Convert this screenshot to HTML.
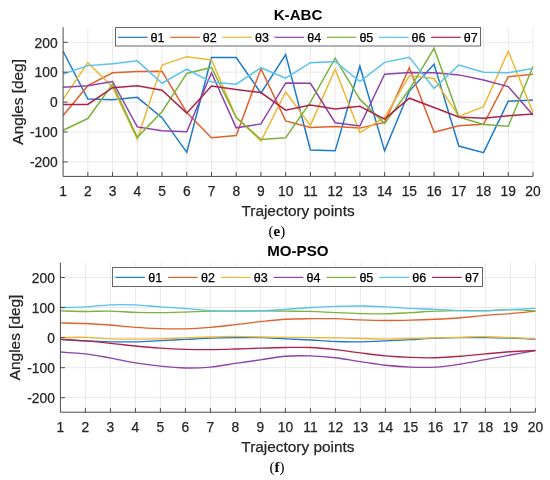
<!DOCTYPE html>
<html><head><meta charset="utf-8"><style>
html,body{margin:0;padding:0;background:#fff;}
svg{display:block;}
text{font-family:"Liberation Sans",Arial,sans-serif;fill:#262626;stroke:#262626;stroke-width:0.25px;}
.tk{font-size:13.8px;}
.lab{font-size:15.4px;}
.ttl{font-size:15.1px;font-weight:bold;fill:#000;stroke:none;}
.lg{font-size:12.5px;fill:#000;stroke:#000;}
.sub{font-family:"Liberation Serif","Times New Roman",serif;font-size:15px;fill:#000;stroke:none;}
</style></head><body>
<svg width="550" height="480" viewBox="0 0 550 480">
<rect width="550" height="480" fill="#fff"/>
<path d="M87.83 27.30V176.40M112.56 27.30V176.40M137.29 27.30V176.40M162.03 27.30V176.40M186.76 27.30V176.40M211.49 27.30V176.40M236.22 27.30V176.40M260.95 27.30V176.40M285.68 27.30V176.40M310.42 27.30V176.40M335.15 27.30V176.40M359.88 27.30V176.40M384.61 27.30V176.40M409.34 27.30V176.40M434.07 27.30V176.40M458.81 27.30V176.40M483.54 27.30V176.40M508.27 27.30V176.40M533.00 27.30V176.40M63.10 161.90H533.00M63.10 132.00H533.00M63.10 102.10H533.00M63.10 72.20H533.00M63.10 42.30H533.00" stroke="#e9e9e9" stroke-width="1" fill="none"/>
<path d="M63.10 51.27L87.83 99.11L112.56 99.71L137.29 97.32L162.03 117.65L186.76 152.33L211.49 57.55L236.22 57.55L260.95 93.13L285.68 54.56L310.42 149.94L335.15 150.84L359.88 66.22L384.61 150.84L409.34 91.04L434.07 64.13L458.81 146.05L483.54 152.63L508.27 101.20L533.00 100.01" stroke="#1a7acb" stroke-width="1.5" fill="none" stroke-linejoin="miter"/>
<path d="M63.10 115.55L87.83 85.66L112.56 72.80L137.29 71.60L162.03 71.30L186.76 112.56L211.49 137.68L236.22 135.59L260.95 68.61L285.68 120.94L310.42 127.51L335.15 126.62L359.88 128.11L384.61 122.43L409.34 67.72L434.07 132.30L458.81 125.72L483.54 124.23L508.27 76.69L533.00 74.29" stroke="#e0612c" stroke-width="1.5" fill="none" stroke-linejoin="miter"/>
<path d="M63.10 99.41L87.83 62.63L112.56 87.15L137.29 139.18L162.03 65.02L186.76 56.65L211.49 59.94L236.22 117.35L260.95 140.97L285.68 91.93L310.42 125.42L335.15 69.21L359.88 132.60L384.61 117.35L409.34 75.79L434.07 78.48L458.81 116.45L483.54 106.58L508.27 51.27L533.00 112.56" stroke="#efb733" stroke-width="1.5" fill="none" stroke-linejoin="miter"/>
<path d="M63.10 87.15L87.83 85.66L112.56 81.47L137.29 126.92L162.03 130.80L186.76 131.70L211.49 72.80L236.22 127.81L260.95 123.93L285.68 82.96L310.42 83.26L335.15 122.73L359.88 126.02L384.61 74.29L409.34 72.50L434.07 72.80L458.81 74.89L483.54 79.97L508.27 86.55L533.00 114.96" stroke="#9040ab" stroke-width="1.5" fill="none" stroke-linejoin="miter"/>
<path d="M63.10 130.21L87.83 118.54L112.56 84.16L137.29 137.38L162.03 111.67L186.76 73.40L211.49 67.42L236.22 117.65L260.95 139.47L285.68 137.68L310.42 102.10L335.15 58.15L359.88 99.41L384.61 123.63L409.34 89.54L434.07 48.28L458.81 117.05L483.54 124.52L508.27 126.32L533.00 66.52" stroke="#7bb33a" stroke-width="1.5" fill="none" stroke-linejoin="miter"/>
<path d="M63.10 73.99L87.83 65.62L112.56 63.83L137.29 60.84L162.03 83.26L186.76 69.21L211.49 82.07L236.22 84.16L260.95 67.72L285.68 78.18L310.42 62.63L335.15 61.44L359.88 81.47L384.61 62.33L409.34 57.25L434.07 88.35L458.81 65.02L483.54 72.20L508.27 72.80L533.00 68.61" stroke="#58c2f0" stroke-width="1.5" fill="none" stroke-linejoin="miter"/>
<path d="M63.10 104.49L87.83 104.49L112.56 87.75L137.29 85.66L162.03 90.14L186.76 113.16L211.49 85.95L236.22 89.54L260.95 92.53L285.68 110.17L310.42 105.09L335.15 108.98L359.88 106.29L384.61 119.14L409.34 98.21L434.07 107.48L458.81 117.05L483.54 118.25L508.27 115.85L533.00 114.06" stroke="#ad2449" stroke-width="1.5" fill="none" stroke-linejoin="miter"/>
<path d="M63.10 27.30V176.40H533.00M87.83 176.40v-4.3M112.56 176.40v-4.3M137.29 176.40v-4.3M162.03 176.40v-4.3M186.76 176.40v-4.3M211.49 176.40v-4.3M236.22 176.40v-4.3M260.95 176.40v-4.3M285.68 176.40v-4.3M310.42 176.40v-4.3M335.15 176.40v-4.3M359.88 176.40v-4.3M384.61 176.40v-4.3M409.34 176.40v-4.3M434.07 176.40v-4.3M458.81 176.40v-4.3M483.54 176.40v-4.3M508.27 176.40v-4.3M533.00 176.40v-4.3M63.10 161.90h4.5M63.10 132.00h4.5M63.10 102.10h4.5M63.10 72.20h4.5M63.10 42.30h4.5" stroke="#4a4a4a" stroke-width="1" fill="none"/>
<text x="63.10" y="196.00" class="tk" text-anchor="middle">1</text>
<text x="87.83" y="196.00" class="tk" text-anchor="middle">2</text>
<text x="112.56" y="196.00" class="tk" text-anchor="middle">3</text>
<text x="137.29" y="196.00" class="tk" text-anchor="middle">4</text>
<text x="162.03" y="196.00" class="tk" text-anchor="middle">5</text>
<text x="186.76" y="196.00" class="tk" text-anchor="middle">6</text>
<text x="211.49" y="196.00" class="tk" text-anchor="middle">7</text>
<text x="236.22" y="196.00" class="tk" text-anchor="middle">8</text>
<text x="260.95" y="196.00" class="tk" text-anchor="middle">9</text>
<text x="285.68" y="196.00" class="tk" text-anchor="middle">10</text>
<text x="310.42" y="196.00" class="tk" text-anchor="middle">11</text>
<text x="335.15" y="196.00" class="tk" text-anchor="middle">12</text>
<text x="359.88" y="196.00" class="tk" text-anchor="middle">13</text>
<text x="384.61" y="196.00" class="tk" text-anchor="middle">14</text>
<text x="409.34" y="196.00" class="tk" text-anchor="middle">15</text>
<text x="434.07" y="196.00" class="tk" text-anchor="middle">16</text>
<text x="458.81" y="196.00" class="tk" text-anchor="middle">17</text>
<text x="483.54" y="196.00" class="tk" text-anchor="middle">18</text>
<text x="508.27" y="196.00" class="tk" text-anchor="middle">19</text>
<text x="533.00" y="196.00" class="tk" text-anchor="middle">20</text>
<text x="57.60" y="167.10" class="tk" text-anchor="end">-200</text>
<text x="57.60" y="137.20" class="tk" text-anchor="end">-100</text>
<text x="57.60" y="107.30" class="tk" text-anchor="end">0</text>
<text x="57.60" y="77.40" class="tk" text-anchor="end">100</text>
<text x="57.60" y="47.50" class="tk" text-anchor="end">200</text>
<text x="23.00" y="101.85" class="lab" text-anchor="middle" transform="rotate(-90 23.00 101.85)">Angles [deg]</text>
<text x="298.05" y="215.60" class="lab" text-anchor="middle">Trajectory points</text>
<text x="298.05" y="20.20" class="ttl" text-anchor="middle">K-ABC</text>
<text x="276.90" y="236.10" class="sub" text-anchor="middle">(<tspan font-weight="bold">e</tspan>)</text>
<rect x="115.50" y="27.50" width="365.00" height="18.50" fill="#fff" stroke="#666" stroke-width="1"/>
<path d="M117.90 37.30h29.70" stroke="#1a7acb" stroke-width="1.2"/>
<text x="150.60" y="41.90" class="lg">θ1</text>
<path d="M170.10 37.30h29.70" stroke="#e0612c" stroke-width="1.2"/>
<text x="202.80" y="41.90" class="lg">θ2</text>
<path d="M222.30 37.30h29.70" stroke="#efb733" stroke-width="1.2"/>
<text x="255.00" y="41.90" class="lg">θ3</text>
<path d="M274.50 37.30h29.70" stroke="#9040ab" stroke-width="1.2"/>
<text x="307.20" y="41.90" class="lg">θ4</text>
<path d="M326.70 37.30h29.70" stroke="#7bb33a" stroke-width="1.2"/>
<text x="359.40" y="41.90" class="lg">θ5</text>
<path d="M378.90 37.30h29.70" stroke="#58c2f0" stroke-width="1.2"/>
<text x="411.60" y="41.90" class="lg">θ6</text>
<path d="M431.10 37.30h29.70" stroke="#ad2449" stroke-width="1.2"/>
<text x="463.80" y="41.90" class="lg">θ7</text>
<path d="M85.40 262.70V412.20M110.40 262.70V412.20M135.40 262.70V412.20M160.40 262.70V412.20M185.40 262.70V412.20M210.40 262.70V412.20M235.40 262.70V412.20M260.40 262.70V412.20M285.40 262.70V412.20M310.40 262.70V412.20M335.40 262.70V412.20M360.40 262.70V412.20M385.40 262.70V412.20M410.40 262.70V412.20M435.40 262.70V412.20M460.40 262.70V412.20M485.40 262.70V412.20M510.40 262.70V412.20M535.40 262.70V412.20M60.40 397.72H535.40M60.40 367.66H535.40M60.40 337.60H535.40M60.40 307.54H535.40M60.40 277.48H535.40" stroke="#e9e9e9" stroke-width="1" fill="none"/>
<path d="M60.40 339.40C64.57 339.65 77.07 340.51 85.40 340.91C93.73 341.31 102.07 341.66 110.40 341.81C118.73 341.96 127.07 342.01 135.40 341.81C143.73 341.61 152.07 341.01 160.40 340.61C168.73 340.21 177.07 339.80 185.40 339.40C193.73 339.00 202.07 338.50 210.40 338.20C218.73 337.90 227.07 337.70 235.40 337.60C243.73 337.50 252.07 337.40 260.40 337.60C268.73 337.80 277.07 338.40 285.40 338.80C293.73 339.20 302.07 339.55 310.40 340.00C318.73 340.46 327.07 341.21 335.40 341.51C343.73 341.81 352.07 341.91 360.40 341.81C368.73 341.71 377.07 341.26 385.40 340.91C393.73 340.56 402.07 340.16 410.40 339.70C418.73 339.25 427.07 338.55 435.40 338.20C443.73 337.85 452.07 337.70 460.40 337.60C468.73 337.50 477.07 337.50 485.40 337.60C493.73 337.70 502.07 337.90 510.40 338.20C518.73 338.50 531.23 339.20 535.40 339.40" stroke="#1a7acb" stroke-width="1.35" fill="none" stroke-linejoin="miter"/>
<path d="M60.40 322.87C64.57 322.97 77.07 323.12 85.40 323.47C93.73 323.82 102.07 324.32 110.40 324.97C118.73 325.63 127.07 326.78 135.40 327.38C143.73 327.98 152.07 328.33 160.40 328.58C168.73 328.83 177.07 329.08 185.40 328.88C193.73 328.68 202.07 328.08 210.40 327.38C218.73 326.68 227.07 325.63 235.40 324.67C243.73 323.72 252.07 322.57 260.40 321.67C268.73 320.77 277.07 319.76 285.40 319.26C293.73 318.76 302.07 318.76 310.40 318.66C318.73 318.56 327.07 318.46 335.40 318.66C343.73 318.86 352.07 319.56 360.40 319.86C368.73 320.17 377.07 320.42 385.40 320.47C393.73 320.52 402.07 320.37 410.40 320.17C418.73 319.96 427.07 319.66 435.40 319.26C443.73 318.86 452.07 318.41 460.40 317.76C468.73 317.11 477.07 316.06 485.40 315.36C493.73 314.65 502.07 314.25 510.40 313.55C518.73 312.85 531.23 311.55 535.40 311.15" stroke="#e0612c" stroke-width="1.35" fill="none" stroke-linejoin="miter"/>
<path d="M60.40 337.60C64.57 337.55 77.07 337.10 85.40 337.30C93.73 337.50 102.07 338.50 110.40 338.80C118.73 339.10 127.07 339.10 135.40 339.10C143.73 339.10 152.07 339.00 160.40 338.80C168.73 338.60 177.07 338.20 185.40 337.90C193.73 337.60 202.07 337.25 210.40 337.00C218.73 336.75 227.07 336.40 235.40 336.40C243.73 336.40 252.07 336.85 260.40 337.00C268.73 337.15 277.07 337.20 285.40 337.30C293.73 337.40 302.07 337.50 310.40 337.60C318.73 337.70 327.07 337.75 335.40 337.90C343.73 338.05 352.07 338.30 360.40 338.50C368.73 338.70 377.07 339.10 385.40 339.10C393.73 339.10 402.07 338.70 410.40 338.50C418.73 338.30 427.07 338.10 435.40 337.90C443.73 337.70 452.07 337.50 460.40 337.30C468.73 337.10 477.07 336.65 485.40 336.70C493.73 336.75 502.07 337.25 510.40 337.60C518.73 337.95 531.23 338.60 535.40 338.80" stroke="#efb733" stroke-width="1.35" fill="none" stroke-linejoin="miter"/>
<path d="M60.40 352.03C64.57 352.33 77.07 352.83 85.40 353.83C93.73 354.83 102.07 356.54 110.40 358.04C118.73 359.54 127.07 361.50 135.40 362.85C143.73 364.20 152.07 365.31 160.40 366.16C168.73 367.01 177.07 367.81 185.40 367.96C193.73 368.11 202.07 367.81 210.40 367.06C218.73 366.31 227.07 364.65 235.40 363.45C243.73 362.25 252.07 361.05 260.40 359.84C268.73 358.64 277.07 356.89 285.40 356.24C293.73 355.59 302.07 355.69 310.40 355.94C318.73 356.19 327.07 356.79 335.40 357.74C343.73 358.69 352.07 360.40 360.40 361.65C368.73 362.90 377.07 364.35 385.40 365.26C393.73 366.16 402.07 366.76 410.40 367.06C418.73 367.36 427.07 367.56 435.40 367.06C443.73 366.56 452.07 365.31 460.40 364.05C468.73 362.80 477.07 361.05 485.40 359.54C493.73 358.04 502.07 356.54 510.40 355.03C518.73 353.53 531.23 351.28 535.40 350.53" stroke="#9040ab" stroke-width="1.35" fill="none" stroke-linejoin="miter"/>
<path d="M60.40 310.85C64.57 310.95 77.07 311.40 85.40 311.45C93.73 311.50 102.07 311.00 110.40 311.15C118.73 311.30 127.07 312.10 135.40 312.35C143.73 312.60 152.07 312.70 160.40 312.65C168.73 312.60 177.07 312.30 185.40 312.05C193.73 311.80 202.07 311.30 210.40 311.15C218.73 311.00 227.07 311.20 235.40 311.15C243.73 311.10 252.07 310.85 260.40 310.85C268.73 310.85 277.07 311.05 285.40 311.15C293.73 311.25 302.07 311.20 310.40 311.45C318.73 311.70 327.07 312.30 335.40 312.65C343.73 313.00 352.07 313.35 360.40 313.55C368.73 313.75 377.07 314.00 385.40 313.85C393.73 313.70 402.07 313.10 410.40 312.65C418.73 312.20 427.07 311.50 435.40 311.15C443.73 310.80 452.07 310.65 460.40 310.55C468.73 310.45 477.07 310.70 485.40 310.55C493.73 310.40 502.07 309.59 510.40 309.64C518.73 309.69 531.23 310.65 535.40 310.85" stroke="#7bb33a" stroke-width="1.35" fill="none" stroke-linejoin="miter"/>
<path d="M60.40 307.54C64.57 307.44 77.07 307.39 85.40 306.94C93.73 306.49 102.07 305.19 110.40 304.83C118.73 304.48 127.07 304.48 135.40 304.83C143.73 305.19 152.07 306.34 160.40 306.94C168.73 307.54 177.07 307.84 185.40 308.44C193.73 309.04 202.07 310.10 210.40 310.55C218.73 311.00 227.07 311.10 235.40 311.15C243.73 311.20 252.07 311.15 260.40 310.85C268.73 310.55 277.07 309.89 285.40 309.34C293.73 308.79 302.07 308.04 310.40 307.54C318.73 307.04 327.07 306.59 335.40 306.34C343.73 306.09 352.07 305.94 360.40 306.04C368.73 306.14 377.07 306.54 385.40 306.94C393.73 307.34 402.07 308.04 410.40 308.44C418.73 308.84 427.07 308.99 435.40 309.34C443.73 309.69 452.07 310.30 460.40 310.55C468.73 310.80 477.07 311.00 485.40 310.85C493.73 310.70 502.07 310.05 510.40 309.64C518.73 309.24 531.23 308.64 535.40 308.44" stroke="#58c2f0" stroke-width="1.35" fill="none" stroke-linejoin="miter"/>
<path d="M60.40 339.40C64.57 339.65 77.07 340.26 85.40 340.91C93.73 341.56 102.07 342.46 110.40 343.31C118.73 344.16 127.07 345.22 135.40 346.02C143.73 346.82 152.07 347.57 160.40 348.12C168.73 348.67 177.07 349.07 185.40 349.32C193.73 349.57 202.07 349.67 210.40 349.62C218.73 349.57 227.07 349.27 235.40 349.02C243.73 348.77 252.07 348.37 260.40 348.12C268.73 347.87 277.07 347.62 285.40 347.52C293.73 347.42 302.07 347.17 310.40 347.52C318.73 347.87 327.07 348.72 335.40 349.62C343.73 350.53 352.07 351.88 360.40 352.93C368.73 353.98 377.07 355.19 385.40 355.94C393.73 356.69 402.07 357.14 410.40 357.44C418.73 357.74 427.07 357.94 435.40 357.74C443.73 357.54 452.07 356.89 460.40 356.24C468.73 355.59 477.07 354.58 485.40 353.83C493.73 353.08 502.07 352.28 510.40 351.73C518.73 351.18 531.23 350.73 535.40 350.53" stroke="#ad2449" stroke-width="1.35" fill="none" stroke-linejoin="miter"/>
<path d="M60.40 262.70V412.20H535.40M85.40 412.20v-4.3M110.40 412.20v-4.3M135.40 412.20v-4.3M160.40 412.20v-4.3M185.40 412.20v-4.3M210.40 412.20v-4.3M235.40 412.20v-4.3M260.40 412.20v-4.3M285.40 412.20v-4.3M310.40 412.20v-4.3M335.40 412.20v-4.3M360.40 412.20v-4.3M385.40 412.20v-4.3M410.40 412.20v-4.3M435.40 412.20v-4.3M460.40 412.20v-4.3M485.40 412.20v-4.3M510.40 412.20v-4.3M535.40 412.20v-4.3M60.40 397.72h4.5M60.40 367.66h4.5M60.40 337.60h4.5M60.40 307.54h4.5M60.40 277.48h4.5" stroke="#4a4a4a" stroke-width="1" fill="none"/>
<text x="60.40" y="431.90" class="tk" text-anchor="middle">1</text>
<text x="85.40" y="431.90" class="tk" text-anchor="middle">2</text>
<text x="110.40" y="431.90" class="tk" text-anchor="middle">3</text>
<text x="135.40" y="431.90" class="tk" text-anchor="middle">4</text>
<text x="160.40" y="431.90" class="tk" text-anchor="middle">5</text>
<text x="185.40" y="431.90" class="tk" text-anchor="middle">6</text>
<text x="210.40" y="431.90" class="tk" text-anchor="middle">7</text>
<text x="235.40" y="431.90" class="tk" text-anchor="middle">8</text>
<text x="260.40" y="431.90" class="tk" text-anchor="middle">9</text>
<text x="285.40" y="431.90" class="tk" text-anchor="middle">10</text>
<text x="310.40" y="431.90" class="tk" text-anchor="middle">11</text>
<text x="335.40" y="431.90" class="tk" text-anchor="middle">12</text>
<text x="360.40" y="431.90" class="tk" text-anchor="middle">13</text>
<text x="385.40" y="431.90" class="tk" text-anchor="middle">14</text>
<text x="410.40" y="431.90" class="tk" text-anchor="middle">15</text>
<text x="435.40" y="431.90" class="tk" text-anchor="middle">16</text>
<text x="460.40" y="431.90" class="tk" text-anchor="middle">17</text>
<text x="485.40" y="431.90" class="tk" text-anchor="middle">18</text>
<text x="510.40" y="431.90" class="tk" text-anchor="middle">19</text>
<text x="535.40" y="431.90" class="tk" text-anchor="middle">20</text>
<text x="54.90" y="402.92" class="tk" text-anchor="end">-200</text>
<text x="54.90" y="372.86" class="tk" text-anchor="end">-100</text>
<text x="54.90" y="342.80" class="tk" text-anchor="end">0</text>
<text x="54.90" y="312.74" class="tk" text-anchor="end">100</text>
<text x="54.90" y="282.68" class="tk" text-anchor="end">200</text>
<text x="20.00" y="337.45" class="lab" text-anchor="middle" transform="rotate(-90 20.00 337.45)">Angles [deg]</text>
<text x="297.90" y="452.30" class="lab" text-anchor="middle">Trajectory points</text>
<text x="297.90" y="256.00" class="ttl" text-anchor="middle">MO-PSO</text>
<text x="277.00" y="471.80" class="sub" text-anchor="middle">(<tspan font-weight="bold">f</tspan>)</text>
<rect x="112.50" y="267.50" width="370.00" height="19.00" fill="#fff" stroke="#666" stroke-width="1"/>
<path d="M115.30 277.40h29.60" stroke="#1a7acb" stroke-width="1.2"/>
<text x="148.20" y="282.00" class="lg">θ1</text>
<path d="M168.10 277.40h29.60" stroke="#e0612c" stroke-width="1.2"/>
<text x="201.00" y="282.00" class="lg">θ2</text>
<path d="M220.90 277.40h29.60" stroke="#efb733" stroke-width="1.2"/>
<text x="253.80" y="282.00" class="lg">θ3</text>
<path d="M273.70 277.40h29.60" stroke="#9040ab" stroke-width="1.2"/>
<text x="306.60" y="282.00" class="lg">θ4</text>
<path d="M326.50 277.40h29.60" stroke="#7bb33a" stroke-width="1.2"/>
<text x="359.40" y="282.00" class="lg">θ5</text>
<path d="M379.30 277.40h29.60" stroke="#58c2f0" stroke-width="1.2"/>
<text x="412.20" y="282.00" class="lg">θ6</text>
<path d="M432.10 277.40h29.60" stroke="#ad2449" stroke-width="1.2"/>
<text x="465.00" y="282.00" class="lg">θ7</text>
</svg>
</body></html>
